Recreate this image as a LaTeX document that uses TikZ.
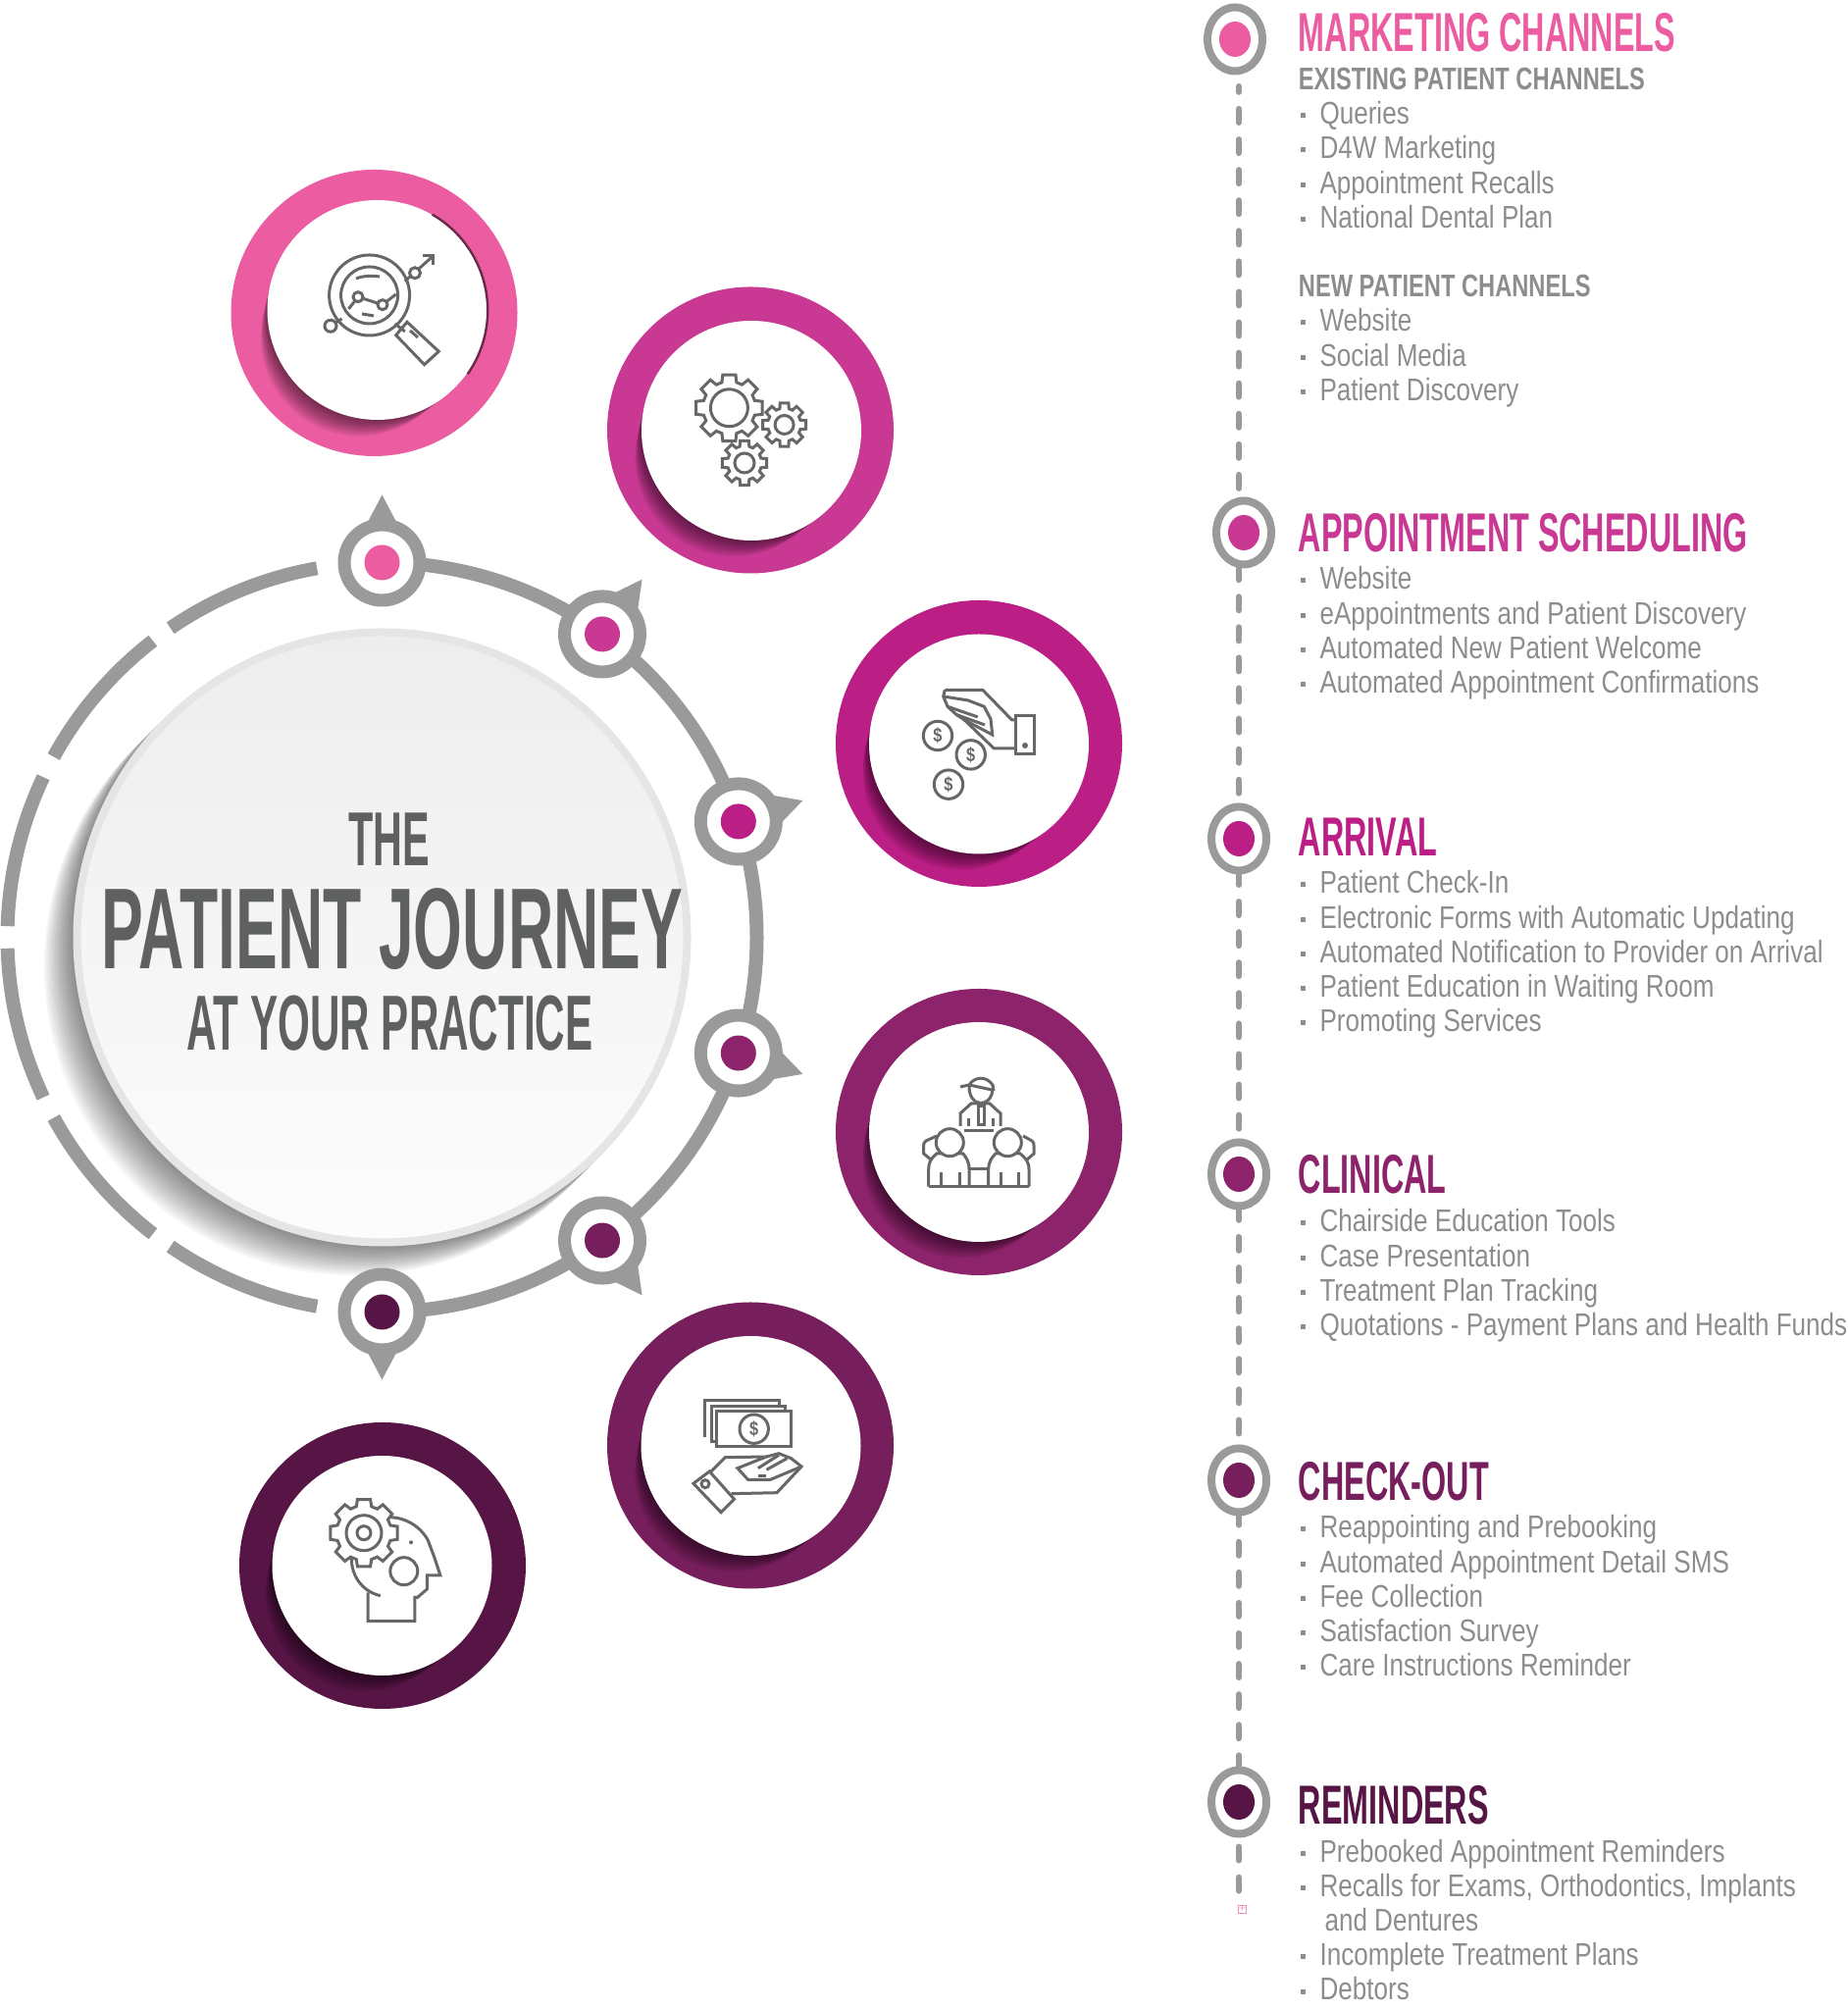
\documentclass[tikz,border=0pt]{standalone}
\usepackage{fontspec}
\usetikzlibrary{positioning,shapes.geometric}

\newfontfamily\titlefont[FakeStretch=.53]{Liberation Sans}
\newfontfamily\bigfont[FakeStretch=.546]{Liberation Sans}
\newfontfamily\headfont[FakeStretch=.577]{Liberation Sans}
\newfontfamily\subfont[FakeStretch=.74]{Liberation Sans}
\newfontfamily\itemfont[FakeStretch=.815]{Liberation Sans}

\definecolor{colmk}{HTML}{EB5CA1}
\definecolor{colap}{HTML}{C93993}
\definecolor{colar}{HTML}{BB1E84}
\definecolor{colcl}{HTML}{8D236B}
\definecolor{colco}{HTML}{771F5D}
\definecolor{colre}{HTML}{571546}
\definecolor{ringgray}{HTML}{9A9A9A}
\definecolor{icongray}{HTML}{666766}
\definecolor{titlegray}{HTML}{5F6161}
\definecolor{itemgray}{HTML}{8B8D8E}

\newcommand{\bul}[1]{\strut\makebox[10pt][l]{\rule[3.2pt]{2.5pt}{2.5pt}}#1}
\newcommand{\gearicon}[5]{%
        \draw[iconline,fill=white] ([shift={(#1,#2)}]-16:#4) \foreach \t in {0,45,...,315} {
                -- ([shift={(#1,#2)}]\t-11:#3) -- ([shift={(#1,#2)}]\t+11:#3)
                -- ([shift={(#1,#2)}]\t+16:#4) -- ([shift={(#1,#2)}]\t+29:#4)} -- cycle;
        \draw[iconline] (#1,#2) circle [radius=#5];}

\tikzset{
        ringouter/.style={circle,fill=#1,minimum size=146pt,inner sep=0pt},
        ringinner/.style={circle,fill=white,minimum size=112pt,inner sep=0pt},
        ringline/.style={ringgray,line width=7pt},
        pinring/.style={circle,draw=ringgray,fill=white,line width=6.5pt,minimum size=38.5pt,inner sep=0pt},
        pindot/.style={circle,fill=#1,minimum size=18pt,inner sep=0pt},
        stopring/.style={ellipse,draw=ringgray,fill=white,line width=4pt,minimum width=28pt,minimum height=32.5pt,inner sep=0pt},
        stopdot/.style={ellipse,fill=#1,minimum width=16pt,minimum height=18pt,inner sep=0pt},
        dashline/.style={ringgray,line width=3pt,line cap=round,dash pattern=on 7pt off 8.54pt,dash phase=4.04pt},
        titletext/.style={text=titlegray,font=\titlefont\bfseries\fontsize{#1}{#1}\selectfont,anchor=base,inner sep=0pt},
        headtext/.style={text=#1,font=\headfont\bfseries\fontsize{28}{28}\selectfont,anchor=base west,inner sep=0pt},
        itemlist/.style={text=itemgray,font=\itemfont\fontsize{16}{17.6}\selectfont,align=left,inner sep=0pt},
        iconline/.style={icongray,line width=1.5pt,line join=miter},
        coin/.style={circle,draw=icongray,line width=1.5pt,fill=white,minimum size=14.7pt,inner sep=0pt,text=icongray,font=\itemfont\bfseries\fontsize{10}{10}\selectfont},
        pxdown/.style={shift={(0,2048)},yscale=-1}
}

\begin{document}
\begin{tikzpicture}[x=.5pt,y=.5pt]
        \useasboundingbox (0,0) rectangle (1883,2048);

        \coordinate (hub) at (389.5,1092.5);

        \foreach \s in {3,6,...,42}
                \fill[black,opacity=.04] ([shift={(-.7*\s,-.7*\s)}]hub) circle [radius=315];

        \foreach \st/\en in {-90/90,100/124.4,127.7/151.2,154.7/178.3,181.7/205.3,208.8/232.3,235.6/260}
                \draw[ringline] ([shift={(\st:382)}]hub) arc[start angle=\st,end angle=\en,radius=382];

        \node[circle,draw=black!10,line width=4pt,top color=black!7,bottom color=black!1,minimum size=311pt,inner sep=0pt] (journey) at (hub) {};

        \node[titletext=39] (th) at (397,1165) {THE};
        \node[titletext=58.7,font=\bigfont\bfseries\fontsize{58.7}{58.7}\selectfont] (pj) at (400,1060) {PATIENT JOURNEY};
        \node[titletext=39.8] (ay) at (397.5,977) {AT YOUR PRACTICE};

        \foreach \a/\nm/\col in {90/pa/colmk,54/pb/colap,18/pc/colar,-18/pd/colcl,-54/pe/colco,-90/pf/colre}{
                \node[pinring] (\nm) at ([shift={(\a:382)}]hub) {};
                \fill[ringgray] ([shift={(\a:69)}]\nm.center) -- ([shift={(\a+24:41)}]\nm.center) -- ([shift={(\a-24:41)}]\nm.center) -- cycle;
                \node[pindot=\col] (\nm d) at (\nm) {};
        }

        \foreach \nm/\ox/\oy/\ix/\iy/\col in {mk/381.5/1729/384.5/1732/colmk,ap/765/1609.5/766/1609/colap,ar/998/1290/998/1289.5/colar,cl/998/894/998/894/colcl,co/765/574.5/765.5/574/colco,re/390/452/389.5/452/colre}{
                \node[ringouter=\col] (\nm o) at (\ox,\oy) {};
                \foreach \s in {3,6,...,33}
                        \fill[black,opacity=.055] (\ix-.55*\s,\iy-.85*\s) circle [radius=112-.35*\s];
                \node[ringinner] (\nm i) at (\ix,\iy) {};
        }
        \draw[black!55!colmk,line width=1.2pt] (mki.60) arc[start angle=60,end angle=-35,radius=113];

        \begin{scope}[pxdown]
                % magnifier
                \draw[iconline] (376.6,301) circle [radius=41];
                \draw[iconline] (376.6,301) circle [radius=29];
                \draw[iconline] (355.4,315) -- (365,302.7) -- (390,310.7) -- (403.7,300);
                \draw[iconline,fill=white] (365,302.7) circle [radius=5];
                \draw[iconline,fill=white] (390,310.7) circle [radius=5];
                \draw[iconline] (363,284) .. controls (370,281) and (380,281) .. (387,282);
                \draw[iconline] (369,320) -- (381,322);
                \draw[iconline] (412.8,286.7) -- (418,282);
                \draw[iconline,fill=white] (423,278.3) circle [radius=5.5];
                \draw[iconline] (427,274) -- (441.8,260.7);
                \draw[iconline] (431,260.7) -- (441.8,260.7) -- (441.8,270);
                \draw[iconline] (348.6,325) -- (342,329);
                \draw[iconline,fill=white] (337,332.3) circle [radius=6];
                \draw[iconline] (402.7,330) -- (412.8,338);
                \draw[iconline] (415,328.3) -- (447.3,358.3) -- (432.6,371.7) -- (403.7,341.7) -- cycle;
                \draw[iconline] (418,337) -- (426,344);

                % gears
                \gearicon{743.4}{415.8}{34.4}{27}{19}
                \gearicon{799.6}{433}{22.5}{17}{9.5}
                \gearicon{759}{472}{23}{17.5}{10}

                % hand and coins
                \draw[iconline] (1035,729.5) rectangle (1054,768.5);
                \fill[icongray] (1045,760) circle [radius=3];
                \draw[iconline] (963.3,703.3) -- (1001.7,703.3) -- (1031.7,734) -- (1035,734);
                \draw[iconline] (1035,763) -- (1013.3,763) -- (983.3,734);
                \draw[iconline] (963.3,703.3) -- (961.7,710) -- (966,720.3) -- (975,728.5) -- (983.3,734) -- (1011.7,749) -- (1010,733) -- (1003.3,720.3) -- (986.7,713.9) -- (961.7,710);
                \draw[iconline] (966,720.3) -- (996.7,730.9);
                \draw[iconline] (975,728.5) -- (1004,739);
                \node[coin] (ca) at (956,750) {\$};
                \node[coin] (cb) at (989.7,769.4) {\$};
                \node[coin] (cc) at (967,799.7) {\$};

                % meeting
                \draw[iconline] (979,1108) -- (988,1106) .. controls (993,1098) and (1005,1096) .. (1012,1106) -- (1013,1112);
                \draw[iconline] (988,1106) .. controls (987,1130) and (1011,1130) .. (1012,1110);
                \draw[iconline] (988,1106) -- (1011,1111);
                \draw[iconline] (979,1148) -- (979,1135) -- (990,1125) -- (1009,1125) -- (1020,1135) -- (1020,1148);
                \draw[iconline] (997,1128) -- (1003,1128) -- (1003,1147) -- (997,1147) -- cycle;
                \draw[iconline] (987,1148) -- (987,1140) (1012,1140) -- (1012,1148);
                \draw[iconline] (955,1158) -- (944,1163) .. controls (941.7,1165) .. (941.7,1169) -- (941.7,1176) -- (950,1183);
                \draw[iconline] (1043,1158) -- (1052,1163) .. controls (1054,1165) .. (1054,1169) -- (1054,1176) -- (1046,1183);
                \draw[iconline] (983,1153) -- (1013,1153);
                \draw[iconline] (946.7,1209.7) -- (946.7,1192) .. controls (946.7,1184) and (950,1180) .. (955,1176) -- (981.7,1176) .. controls (985,1180) and (988,1184) .. (988,1192) -- (988,1209.7);
                \draw[iconline] (1007.7,1209.7) -- (1007.7,1192) .. controls (1008,1184) and (1011,1180) .. (1015,1176) -- (1040,1176) .. controls (1045,1180) and (1049,1184) .. (1049,1192) -- (1049,1209.7);
                \draw[iconline] (946.7,1209.7) -- (1049,1209.7);
                \draw[iconline] (988,1192) -- (1007.7,1192);
                \draw[iconline] (959.3,1209.7) -- (959.3,1194.6) (978.3,1209.7) -- (978.3,1194.6) (1020,1209.7) -- (1020,1194.6) (1038.3,1209.7) -- (1038.3,1194.6);
                \draw[iconline,fill=white] (968.3,1164.7) circle [radius=14];
                \draw[iconline,fill=white] (1027.3,1164.7) circle [radius=14];

                % money and hand
                \draw[iconline] (718.2,1465) -- (718.2,1427.7) -- (794,1427.7) -- (794,1433.3);
                \draw[iconline] (730.8,1470) -- (725.4,1470) -- (725.4,1433.3) -- (800.3,1433.3) -- (800.3,1439);
                \draw[iconline] (730.8,1439) rectangle (806.6,1475);
                \node[coin,minimum size=14.7pt] (cd) at (768.7,1456.7) {\$};
                \draw[iconline] (706.9,1512.3) -- (723.3,1500) -- (748.5,1528.3) -- (735,1541.7) -- cycle;
                \draw[iconline] (719,1512.7) circle [radius=4];
                \draw[iconline] (723.3,1501.7) -- (739.3,1485.7) -- (781.4,1485) -- (751.9,1496.7) -- (762.5,1508.3) -- (785.5,1508.3) -- (817.1,1495);
                \draw[iconline] (745.6,1522.7) -- (792,1521.7) -- (817.1,1495) -- (806.6,1486.7) -- (794,1481.7) -- (781.4,1485);
                \draw[iconline] (772.9,1496.7) -- (794,1483.3);
                \draw[iconline] (781.4,1498.3) -- (802.4,1486.7);
                \draw[iconline] (773,1505) -- (781,1505);

                % head with gear
                \draw[iconline] (398.4,1546.7) .. controls (412,1547) and (428,1555) .. (436.2,1570) -- (442.5,1586.7) -- (448.9,1606) -- (435.4,1606) -- (435.4,1620) -- (425.7,1628.3) -- (422.8,1628.3) -- (422.8,1652.7) -- (375.2,1652.7) -- (375.2,1623.3);
                \draw[iconline] (358.4,1588.3) .. controls (358,1605) and (368,1622) .. (387.8,1626.7);
                \draw[iconline] (411.8,1601.7) circle [radius=14];
                \fill[icongray] (419,1572.3) circle [radius=2];
                \gearicon{371}{1562.7}{34.7}{28}{18}
                \draw[iconline] (371,1562.7) circle [radius=7];

                \node[rectangle,draw=colmk!70,line width=.4pt,minimum size=4pt,inner sep=0pt,text=colmk,font=\fontsize{4}{4}\selectfont] (mark) at (1266.6,1946) {+};
        \end{scope}

        \coordinate (dashtop) at (1263,1960);
        \coordinate (dashend) at (1263,119);
        \draw[dashline] (dashtop) -- (dashend);

        \foreach \nm/\sx/\sy/\col in {smk/1259/2008/colmk,sap/1268/1505/colap,sar/1263/1193/colar,scl/1263/851/colcl,sco/1263/539/colco,sre/1263/211/colre}{
                \node[stopring] (\nm) at (\sx,\sy) {};
                \node[stopdot=\col] (\nm d) at (\nm) {};
        }

        \node[headtext=colmk] (hmk) at (1323.5,1995) {MARKETING CHANNELS};
        \node[itemlist,below right=6.7pt and .8pt of hmk.base west] (lmk) {%
                \strut\hspace{-.8pt}{\subfont\bfseries EXISTING PATIENT CHANNELS}\\
                \bul{Queries}\\
                \bul{D4W Marketing}\\
                \bul{Appointment Recalls}\\
                \bul{National Dental Plan}\\
                \strut\\
                \strut\hspace{-.8pt}{\subfont\bfseries NEW PATIENT CHANNELS}\\
                \bul{Website}\\
                \bul{Social Media}\\
                \bul{Patient Discovery}};

        \node[headtext=colap] (hap) at (1323.5,1485) {APPOINTMENT SCHEDULING};
        \node[itemlist,below right=6.4pt and .8pt of hap.base west] (lap) {%
                \bul{Website}\\
                \bul{eAppointments and Patient Discovery}\\
                \bul{Automated New Patient Welcome}\\
                \bul{Automated Appointment Confirmations}};

        \node[headtext=colar] (har) at (1323.5,1175) {ARRIVAL};
        \node[itemlist,below right=6.4pt and .8pt of har.base west] (lar) {%
                \bul{Patient Check-In}\\
                \bul{Electronic Forms with Automatic Updating}\\
                \bul{Automated Notification to Provider on Arrival}\\
                \bul{Patient Education in Waiting Room}\\
                \bul{Promoting Services}};

        \node[headtext=colcl] (hcl) at (1323.5,831) {CLINICAL};
        \node[itemlist,below right=6.9pt and .8pt of hcl.base west] (lcl) {%
                \bul{Chairside Education Tools}\\
                \bul{Case Presentation}\\
                \bul{Treatment Plan Tracking}\\
                \bul{Quotations - Payment Plans and Health Funds}};

        \node[headtext=colco] (hco) at (1323.5,518) {CHECK-OUT};
        \node[itemlist,below right=6.4pt and .8pt of hco.base west] (lco) {%
                \bul{Reappointing and Prebooking}\\
                \bul{Automated Appointment Detail SMS}\\
                \bul{Fee Collection}\\
                \bul{Satisfaction Survey}\\
                \bul{Care Instructions Reminder}};

        \node[headtext=colre] (hre) at (1323.5,188.5) {REMINDERS};
        \node[itemlist,below right=6.8pt and .8pt of hre.base west] (lre) {%
                \bul{Prebooked Appointment Reminders}\\
                \bul{Recalls for Exams, Orthodontics, Implants}\\
                \strut\hspace{12.5pt}and Dentures\\
                \bul{Incomplete Treatment Plans}\\
                \bul{Debtors}};
\end{tikzpicture}
\end{document}
